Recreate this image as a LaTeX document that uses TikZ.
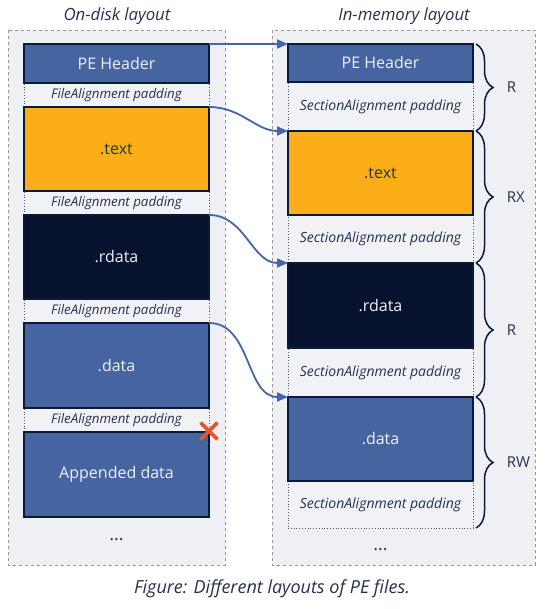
\documentclass[tikz,border=0pt]{standalone}
\usepackage{fontspec}
\setmainfont{Open Sans}
\usetikzlibrary{arrows.meta,decorations.pathreplacing,shapes.misc}

\definecolor{peblue}{HTML}{4665A0}
\definecolor{peorange}{HTML}{FBAE17}
\definecolor{penavy}{HTML}{06122E}
\definecolor{peedge}{HTML}{0B1A3A}
\definecolor{pebg}{HTML}{EFF0F4}
\definecolor{pepad}{HTML}{F1F2F6}
\definecolor{pearrow}{HTML}{4466A6}
\definecolor{petext}{HTML}{27324F}
\definecolor{pewhite}{HTML}{EEF1F8}
\definecolor{pered}{HTML}{EC5428}

\begin{document}
\begin{tikzpicture}[x=1pt,y=-1pt,
    sec node/.style={draw=peedge,line width=1.8pt,minimum width=185pt,anchor=north west,inner sep=0pt,outer sep=0pt,text=pewhite,font=\fontsize{16}{19}\selectfont},
    pad node/.style={draw=petext!80,dotted,line width=0.8pt,fill=pepad,minimum width=185pt,anchor=north west,inner sep=0pt,outer sep=0pt,text=petext,font=\itshape\fontsize{13.3}{15}\selectfont},
    layout box/.style={draw=black!40,dashed,line width=0.9pt,fill=pebg},
    title node/.style={anchor=base,text=petext,font=\itshape\fontsize{16.8}{19}\selectfont},
    dots node/.style={anchor=base,text=petext,font=\fontsize{18}{20}\selectfont},
    move/.style={draw=pearrow,line width=1.8pt,-{Triangle[length=11pt,width=9pt]}},
    perm/.style={draw=peedge,line width=1.5pt,decorate,decoration={brace,amplitude=17pt}},
    perm label/.style={right=30pt,inner sep=0pt,text=petext,font=\fontsize{15}{17}\selectfont}]

    \useasboundingbox (0,0) rectangle (546,609);
    \fill[white] (0,0) rectangle (546,609);

    % the two layouts
    \path[layout box] (8,30) rectangle (225,565);
    \path[layout box] (272,30) rectangle (535,565);
    \node[title node] (disk) at (117,21) {On-disk layout};
    \node[title node] (mem) at (404,21) {In-memory layout};

    % on disk
    \node[pad node,minimum height=24pt] (lpad1) at (24,83) {FileAlignment padding};
    \node[pad node,minimum height=24pt] (lpad2) at (24,191) {FileAlignment padding};
    \node[pad node,minimum height=24pt] (lpad3) at (24,299) {FileAlignment padding};
    \node[pad node,minimum height=24pt] (lpad4) at (24,408) {FileAlignment padding};
    \node[sec node,fill=peblue,minimum height=39pt] (lhdr) at (24,44) {PE Header};
    \node[sec node,fill=peorange,text=petext,minimum height=84pt] (ltext) at (24,107) {.text};
    \node[sec node,fill=penavy,minimum height=84pt] (lrdata) at (24,215) {.rdata};
    \node[sec node,fill=peblue,minimum height=85pt] (ldata) at (24,323) {.data};
    \node[sec node,fill=peblue,minimum height=85pt] (lapp) at (24,432) {Appended data};
    \node[dots node] (ldots) at (116.5,540) {...};

    % in memory
    \node[pad node,font=\itshape\fontsize{14}{16}\selectfont,minimum height=49pt] (rpad1) at (288,82) {SectionAlignment padding};
    \node[pad node,font=\itshape\fontsize{14}{16}\selectfont,minimum height=48pt] (rpad2) at (288,215) {SectionAlignment padding};
    \node[pad node,font=\itshape\fontsize{14}{16}\selectfont,minimum height=49pt] (rpad3) at (288,348) {SectionAlignment padding};
    \node[pad node,font=\itshape\fontsize{14}{16}\selectfont,minimum height=47pt] (rpad4) at (288,481) {SectionAlignment padding};
    \node[sec node,fill=peblue,minimum height=38pt] (rhdr) at (288,44) {PE Header};
    \node[sec node,fill=peorange,text=petext,minimum height=84pt] (rtext) at (288,131) {.text};
    \node[sec node,fill=penavy,minimum height=85pt] (rrdata) at (288,263) {.rdata};
    \node[sec node,fill=peblue,minimum height=84pt] (rdata) at (288,397) {.data};
    \node[dots node] (rdots) at (380.5,550) {...};

    % mapping
    \draw[move] (lhdr.north east) -- (rhdr.north west);
    \draw[move] (ltext.north east) to[out=0,in=180] (rtext.north west);
    \draw[move] (lrdata.north east) to[out=0,in=180] (rrdata.north west);
    \draw[move] (ldata.north east) to[out=0,in=180] (rdata.north west);
    \node[cross out,draw=pered,line width=3.8pt,minimum size=13pt,inner sep=0pt] (cut) at ([yshift=1pt]lapp.north east) {};

    % permissions
    \draw[perm] ([xshift=3pt]rhdr.north east) -- ([xshift=3pt]rpad1.south east) node[midway,perm label] {R};
    \draw[perm] ([xshift=3pt]rtext.north east) -- ([xshift=3pt]rpad2.south east) node[midway,perm label] {RX};
    \draw[perm] ([xshift=3pt]rrdata.north east) -- ([xshift=3pt]rpad3.south east) node[midway,perm label] {R};
    \draw[perm] ([xshift=3pt]rdata.north east) -- ([xshift=3pt]rpad4.south east) node[midway,perm label] {RW};

    \node[anchor=base,text=petext,font=\itshape\fontsize{18}{21}\selectfont] (caption) at (272,593) {Figure: Different layouts of PE files.};
\end{tikzpicture}
\end{document}
